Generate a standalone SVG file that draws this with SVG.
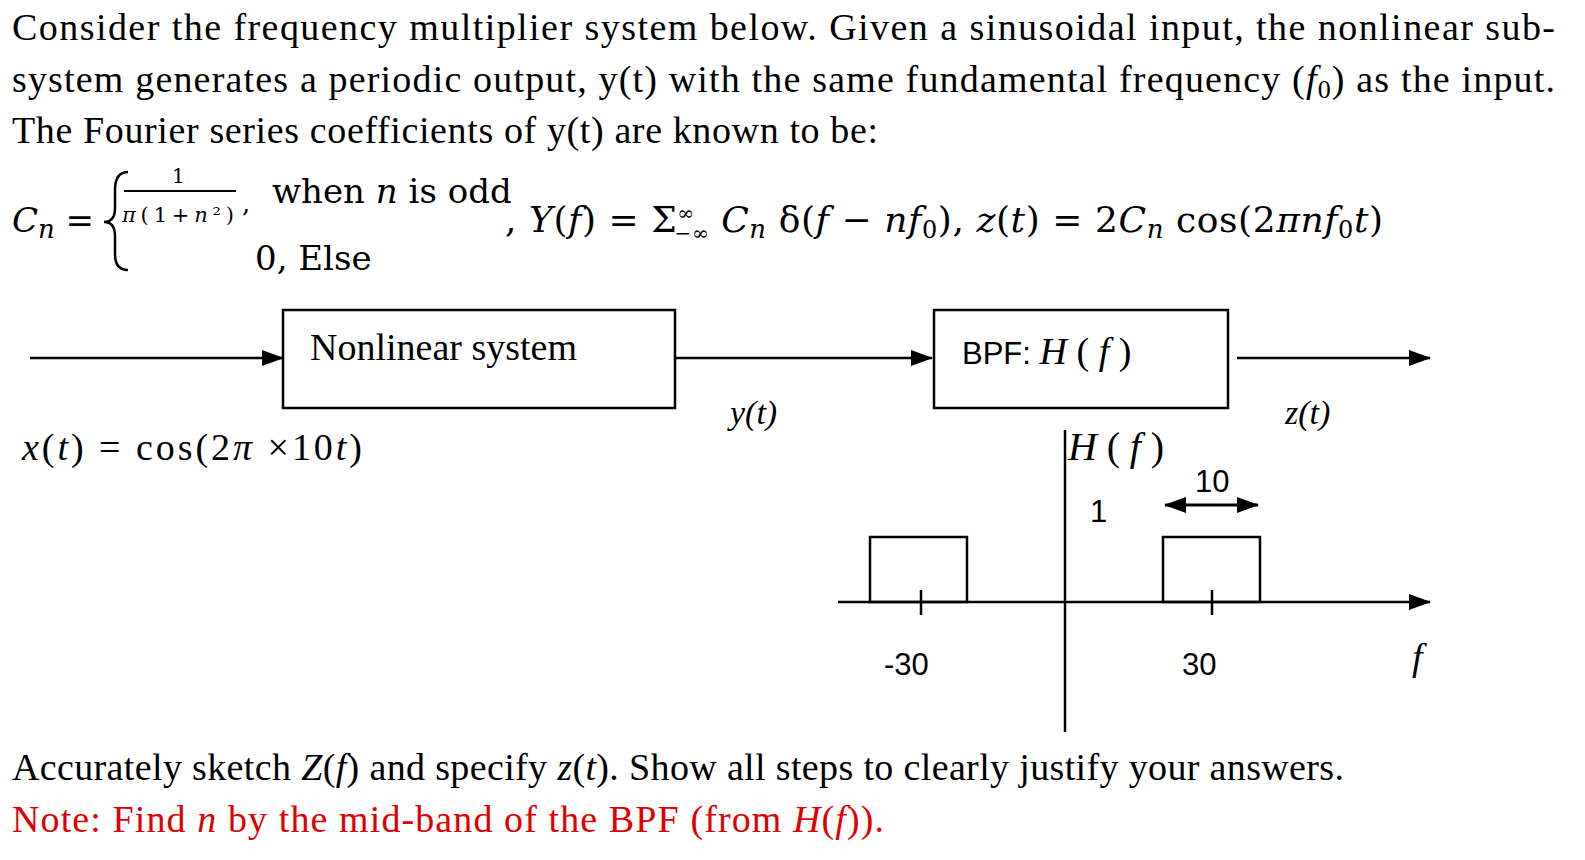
<svg xmlns="http://www.w3.org/2000/svg" width="1585" height="860" viewBox="0 0 1585 860">
<style>
.t{font-family:"Liberation Serif",serif;font-size:38px;fill:#000}
.s{font-family:"Liberation Sans",sans-serif;font-size:31px;fill:#000}
.m{font-family:"DejaVu Serif","Liberation Serif",serif;font-size:34px;fill:#000}
.i{font-style:italic}
.ln{stroke:#000;stroke-width:2.5;fill:none}
.bx{stroke:#000;stroke-width:2.5;fill:#fff}
</style>
<defs>
<marker id="b" markerWidth="22" markerHeight="16" refX="21" refY="8" orient="auto-start-reverse" markerUnits="userSpaceOnUse"><path d="M0,0 L22,8 L0,16z" fill="#000"/></marker>
</defs>
<text class="t" x="12" y="40" textLength="1543" lengthAdjust="spacing">Consider the frequency multiplier system below. Given a sinusoidal input, the nonlinear sub-</text>
<text class="t" x="12" y="92" textLength="1543" lengthAdjust="spacing">system generates a periodic output, y(t) with the same fundamental frequency (<tspan class="i">f</tspan><tspan font-size="26" dy="6">0</tspan><tspan dy="-6">) as the input.</tspan></text>
<text class="t" x="12" y="143" textLength="866" lengthAdjust="spacing">The Fourier series coefficients of y(t) are known to be:</text>
<g id="formula">
<text class="m" x="12" y="232"><tspan class="i">C</tspan><tspan class="i" font-size="26" dy="6">n</tspan><tspan dy="-6"> =</tspan></text>
<path d="M128,172 Q115,172 115,190 L115,208 Q115,222 104,222 Q115,222 115,236 L115,254 Q115,270 128,270" class="ln"/>
<text class="m" x="172" y="183" style="font-size:20px">1</text>
<line x1="124" y1="191" x2="236" y2="191" stroke="#000" stroke-width="2"/>
<text class="m" x="122" y="222" style="font-size:21px" textLength="112" lengthAdjust="spacing"><tspan class="i">π</tspan>(1+<tspan class="i">n</tspan>²)</text>
<text class="m" x="242" y="212" style="font-size:26px">,</text>
<text class="m" x="272" y="203">when <tspan class="i">n</tspan> is odd</text>
<text class="m" x="255" y="270">0,  Else</text>
<text class="m" x="505" y="232" style="font-size:36px" textLength="878" lengthAdjust="spacing">, <tspan class="i">Y</tspan>(<tspan class="i">f</tspan>) = Σ<tspan font-size="20" dy="-12">∞</tspan><tspan font-size="20" dx="-20" dy="20">−∞</tspan><tspan dy="-8"> <tspan class="i">C</tspan></tspan><tspan class="i" font-size="26" dy="6">n</tspan><tspan dy="-6"> δ(<tspan class="i">f</tspan> − <tspan class="i">nf</tspan></tspan><tspan font-size="24" dy="6">0</tspan><tspan dy="-6">), <tspan class="i">z</tspan>(<tspan class="i">t</tspan>) = 2<tspan class="i">C</tspan></tspan><tspan class="i" font-size="26" dy="6">n</tspan><tspan dy="-6"> cos(2<tspan class="i">πnf</tspan></tspan><tspan font-size="24" dy="6">0</tspan><tspan dy="-6"><tspan class="i">t</tspan>)</tspan></text>
</g>
<g id="nonlinear"><rect class="bx" x="283" y="310" width="392" height="98"/><text class="t" x="310" y="360">Nonlinear system</text></g>
<g id="bpf"><rect class="bx" x="934" y="310" width="294" height="98"/><text class="s" x="962" y="364">BPF: <tspan font-family="Liberation Serif" font-style="italic" font-size="38">H</tspan><tspan font-family="Liberation Serif" font-size="38"> ( </tspan><tspan font-family="Liberation Serif" font-style="italic" font-size="38">f</tspan><tspan font-family="Liberation Serif" font-size="38"> )</tspan></text></g>
<g id="connectors">
<line class="ln" x1="30" y1="358" x2="283" y2="358" marker-end="url(#b)"/>
<line class="ln" x1="675" y1="358" x2="932" y2="358" marker-end="url(#b)"/>
<line class="ln" x1="1237" y1="358" x2="1430" y2="358" marker-end="url(#b)"/>
</g>
<text class="t i" x="730" y="424" style="font-size:34px">y(t)</text>
<text class="t i" x="1285" y="424" style="font-size:34px">z(t)</text>
<text class="t" x="22" y="460" textLength="340" lengthAdjust="spacing"><tspan class="i">x</tspan>(<tspan class="i">t</tspan>) = cos(2<tspan class="i">π</tspan> ×10<tspan class="i">t</tspan>)</text>
<g id="plot">
<line class="ln" x1="1065" y1="430" x2="1065" y2="732"/>
<line class="ln" x1="838" y1="602" x2="1430" y2="602" marker-end="url(#b)"/>
<rect x="870" y="537" width="97" height="65" fill="none" stroke="#000" stroke-width="2.5"/>
<rect x="1163" y="537" width="97" height="65" fill="none" stroke="#000" stroke-width="2.5"/>
<line class="ln" x1="921" y1="590" x2="921" y2="615"/>
<line class="ln" x1="1212" y1="590" x2="1212" y2="615"/>
<line class="ln" x1="1165" y1="505" x2="1258" y2="505" marker-start="url(#b)" marker-end="url(#b)" style="stroke-width:3"/>
<text class="t" x="1068" y="460" style="font-size:40px" textLength="96" lengthAdjust="spacing"><tspan class="i">H</tspan>(<tspan class="i">f</tspan>)</text>
<text class="s" x="1090" y="522">1</text>
<text class="s" x="1195" y="492">10</text>
<text class="s" x="884" y="675">-30</text>
<text class="s" x="1182" y="675">30</text>
<text class="t i" x="1412" y="670">f</text>
</g>
<text class="t" x="12" y="780" textLength="1332" lengthAdjust="spacing">Accurately sketch <tspan class="i">Z</tspan>(<tspan class="i">f</tspan>) and specify <tspan class="i">z</tspan>(<tspan class="i">t</tspan>). Show all steps to clearly justify your answers.</text>
<text class="t" x="12" y="832" style="fill:#e00000" textLength="872" lengthAdjust="spacing">Note: Find <tspan class="i">n</tspan> by the mid-band of the BPF (from <tspan class="i">H</tspan>(<tspan class="i">f</tspan>)).</text>
</svg>
